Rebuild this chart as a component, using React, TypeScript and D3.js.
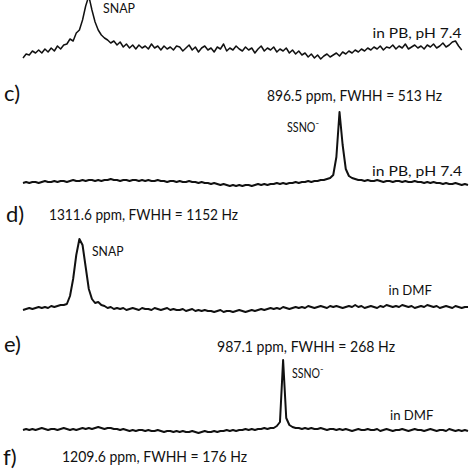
import React from "react";
import * as d3 from "d3";

// shared chemical-shift grid (ppm), high field on the right
const ppmGrid = d3.range(1404, 690, -5);

// intensities (a.u.) per spectrum, one value per grid point
const snapPB = [
  -2, 2, 1, 5, 3, 6, 3, 7, 4, 8, 5, 10, 7, 11, 12, 17, 15, 23, 26, 36,
  50, 60, 46, 34, 26, 21, 18, 16, 13, 15, 11, 14, 9, 12, 8, 11, 7, 11, 8, 10,
  7, 12, 8, 10, 6, 10, 7, 9, 6, 10, 9, 5, 8, 11, 6, 9, 4, 8, 10, 6,
  8, 4, 9, 7, 12, 5, 8, 6, 10, 7, 5, 9, 6, 8, 3, 7, 10, 5, 8, 6,
  9, 4, 7, 5, 8, 3, 6, 2, 5, 1, 3, -1, 2, -2, 1, -3, 0, 2, -1, 1,
  3, 0, 4, 2, 5, 3, 6, 4, 7, 5, 8, 6, 9, 7, 10, 6, 9, 8, 11, 7,
  10, 8, 12, 7, 9, 11, 8, 10, 7, 11, 9, 12, 8, 10, 13, 9, 11, 14, 15, 10, 6,
];

const ssnoPB = [
  2, 3, 2, 3, 3, 2, 3, 4, 3, 3, 4, 3, 4, 4, 3, 4, 5, 4, 4, 5,
  4, 5, 5, 4, 5, 4, 5, 5, 6, 5, 5, 4, 5, 5, 4, 5, 5, 4, 5, 4,
  5, 4, 4, 5, 4, 4, 3, 4, 4, 3, 4, 3, 3, 4, 3, 3, 2, 3, 2, 2,
  1, 2, 1, 0, 1, 0, -1, 0, -1, 0, -1, 0, 0, -1, 0, 1, 0, 1, 0, 1,
  1, 2, 1, 2, 1, 2, 2, 3, 2, 3, 3, 4, 3, 4, 4, 5, 5, 6, 7, 10,
  28, 73, 40, 16, 9, 7, 6, 5, 5, 4, 5, 4, 4, 5, 4, 3, 4, 4, 3, 4,
  4, 3, 4, 3, 3, 4, 3, 3, 2, 3, 2, 3, 2, 2, 1, 2, 1, 1, 2, 1, 0, 1, 0,
];

const snapDMF = [
  -1, 0, 1, 0, 1, 2, 1, 2, 1, 3, 2, 3, 4, 4, 5, 13, 30, 54, 70, 64,
  42, 20, 10, 6, 7, 4, 3, 1, 2, 0, 1, 0, 1, -1, 0, 1, 0, -1, 1, 0,
  0, -1, 1, 0, -1, 0, 1, -1, 0, -1, -1, 0, -2, -1, 0, -2, -1, -2, -1, -2,
  -2, -3, -2, -1, -3, -2, -2, -3, -2, -1, -2, -3, -2, -1, -2, -1, 0, -1, 0, 1,
  0, 1, 0, 2, 1, 0, 1, 2, 1, 2, 1, 3, 2, 1, 2, 3, 2, 1, 3, 2,
  3, 2, 1, 2, 3, 2, 4, 2, 3, 1, 2, 3, 2, 1, 3, 2, 4, 3, 2, 3,
  2, 4, 3, 2, 3, 1, 2, 3, 2, 4, 3, 2, 3, 1, 2, 3, 2, 1, 3, 2, 1, 2, 2,
];

const ssnoDMF = [
  0, 1, 0, 1, 0, 1, 2, 1, 0, 1, 1, 0, 1, 2, 1, 0, 1, 0, 1, 2,
  1, 2, 1, 2, 3, 2, 1, 2, 2, 1, 1, 0, 1, 0, -1, 0, -1, 0, 0, -1,
  0, -1, -1, 0, -1, -2, -1, -1, -2, -1, -2, -1, -2, -2, -1, -2, -3, -2, -1, -2,
  -2, -1, -2, -1, -1, 0, -1, 0, -1, 0, 0, 1, 0, 1, 0, 1, 1, 2, 1, 2,
  2, 4, 8, 70, 12, 5, 3, 2, 2, 1, 2, 1, 2, 1, 1, 2, 1, 0, 1, 1,
  0, 1, 0, 1, 0, -1, 0, 1, 0, 0, 1, 0, 0, 1, -1, 0, 1, 0, -1, 0,
  0, 1, 0, -1, 0, 1, 0, 0, -1, 0, 1, 0, -1, 0, 0, -1, 1, 0, -1, 0, -1, 0, -1,
];

const panels = [
  { values: snapPB, base: 56, width: 1.5 },
  { values: ssnoPB, base: 185, width: 2 },
  { values: snapDMF, base: 309, width: 2 },
  { values: ssnoDMF, base: 430, width: 2 },
];

const headers = [
  { letter: "c)", lx: 4, ly: 101, text: "896.5 ppm, FWHH = 513 Hz", tx: 267, ty: 100.5, w: 175 },
  { letter: "d)", lx: 6, ly: 222, text: "1311.6 ppm, FWHH = 1152 Hz", tx: 49, ty: 219.5, w: 189 },
  { letter: "e)", lx: 4, ly: 352, text: "987.1 ppm, FWHH = 268 Hz", tx: 217, ty: 352, w: 178 },
  { letter: "f)", lx: 3, ly: 465, text: "1209.6 ppm, FWHH = 176 Hz", tx: 62, ty: 462, w: 185 },
];

const peakLabels = [
  { text: "SNAP", x: 103, y: 12.5, w: 32 },
  { text: "SSNO\u207B", x: 287, y: 131.5, w: 32 },
  { text: "SNAP", x: 92, y: 256, w: 31.5 },
  { text: "SSNO\u207B", x: 292, y: 377.5, w: 31.5 },
];

const solventLabels = [
  { text: "in PB, pH 7.4", x: 372.5, y: 37.5, w: 89 },
  { text: "in PB, pH 7.4", x: 372, y: 176, w: 90 },
  { text: "in DMF", x: 388.5, y: 295, w: 43.5 },
  { text: "in DMF", x: 390, y: 419.5, w: 43.5 },
];

const font = "Lato, 'Open Sans', sans-serif";

export default function App() {
  const x = d3
    .scaleLinear()
    .domain([ppmGrid[0], ppmGrid[ppmGrid.length - 1]])
    .range([23, 468]);

  return (
    <svg
      width={474}
      height={474}
      style={{ position: "absolute", left: 0, top: 0, background: "#fff" }}
    >
      {panels.map((p, k) => {
        const y = d3.scaleLinear().domain([0, 100]).range([p.base, p.base - 100]);
        const line = d3
          .line<number>()
          .x((_, i) => x(ppmGrid[i]))
          .y((v) => y(v));
        return (
          <path
            key={k}
            d={line(p.values) ?? ""}
            fill="none"
            stroke="#111"
            strokeWidth={p.width}
            strokeLinejoin="round"
          />
        );
      })}

      <g fontFamily={font} fill="#111">
        {headers.map((h, k) => (
          <g key={k}>
            <text x={h.lx} y={h.ly} fontSize={22}>
              {h.letter}
            </text>
            <text
              x={h.tx}
              y={h.ty}
              fontSize={14.5}
              textLength={h.w}
              lengthAdjust="spacingAndGlyphs"
            >
              {h.text}
            </text>
          </g>
        ))}
        {peakLabels.map((l, k) => (
          <text
            key={k}
            x={l.x}
            y={l.y}
            fontSize={13.5}
            textLength={l.w}
            lengthAdjust="spacingAndGlyphs"
          >
            {l.text}
          </text>
        ))}
        {solventLabels.map((l, k) => (
          <text
            key={k}
            x={l.x}
            y={l.y}
            fontSize={14}
            textLength={l.w}
            lengthAdjust="spacingAndGlyphs"
          >
            {l.text}
          </text>
        ))}
      </g>
    </svg>
  );
}
